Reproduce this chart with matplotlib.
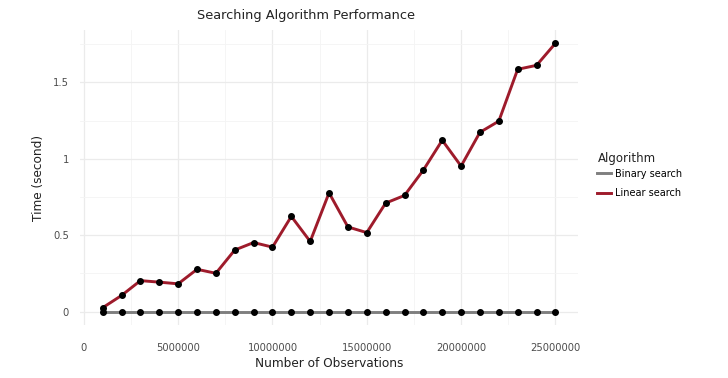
import matplotlib
matplotlib.use('Agg')
import matplotlib.pyplot as plt
from matplotlib.ticker import MultipleLocator, FuncFormatter

# observations (n) and timings in seconds
n_obs = [1e6 * i for i in range(1, 26)]
binary_time = [0.0] * 25
linear_time = [0.026, 0.106, 0.203, 0.193, 0.182, 0.277, 0.251, 0.403, 0.452, 0.422,
               0.623, 0.459, 0.777, 0.554, 0.517, 0.710, 0.760, 0.926, 1.121, 0.952,
               1.173, 1.246, 1.585, 1.611, 1.755]

fig = plt.figure(figsize=(7.28, 3.78), dpi=100)
ax = fig.add_axes([0.110, 0.140, 0.684, 0.781])

ax.plot(n_obs, binary_time, color='#7f7f7f', lw=2.1, label='Binary search', zorder=3)
ax.plot(n_obs, linear_time, color='#9e1b2b', lw=2.1, label='Linear search', zorder=3)
ax.scatter(n_obs, binary_time, color='black', s=16, zorder=4)
ax.scatter(n_obs, linear_time, color='black', s=16, zorder=4)

ax.set_xlim(-0.2e6, 26.2e6)
ax.set_ylim(-0.0878, 1.843)
ax.xaxis.set_major_locator(MultipleLocator(5e6))
ax.xaxis.set_minor_locator(MultipleLocator(2.5e6))
ax.yaxis.set_major_locator(MultipleLocator(0.5))
ax.yaxis.set_minor_locator(MultipleLocator(0.25))
ax.xaxis.set_major_formatter(FuncFormatter(lambda v, p: '%d' % v))
ax.yaxis.set_major_formatter(FuncFormatter(lambda v, p: ('%g' % v)))

ax.grid(which='major', color='#ebebeb', lw=0.9)
ax.grid(which='minor', color='#f4f4f4', lw=0.6)
ax.set_axisbelow(True)
for s in ax.spines.values():
    s.set_visible(False)
ax.tick_params(which='both', length=0, labelsize=7.2, labelcolor='#4d4d4d')
ax.tick_params(axis='x', pad=13)
ax.tick_params(axis='y', pad=8)

# title centred over panel + y label, like ggplot's plot area
fig.text(0.420, 0.958, 'Searching Algorithm Performance', fontsize=9.3,
         color='#222222', ha='center', va='center')
ax.set_xlabel('Number of Observations', fontsize=8.7, color='#222222', labelpad=3)
ax.set_ylabel('Time (second)', fontsize=8.7, color='#222222', labelpad=6)

fig.text(0.821, 0.582, 'Algorithm', fontsize=8.5, color='#222222', ha='left', va='center')
leg = ax.legend(loc='upper left', bbox_to_anchor=(1.02, 0.56), frameon=False,
                fontsize=7, handlelength=1.5, handletextpad=0.4, labelspacing=1.0)

fig.savefig('out.png', dpi=100)
